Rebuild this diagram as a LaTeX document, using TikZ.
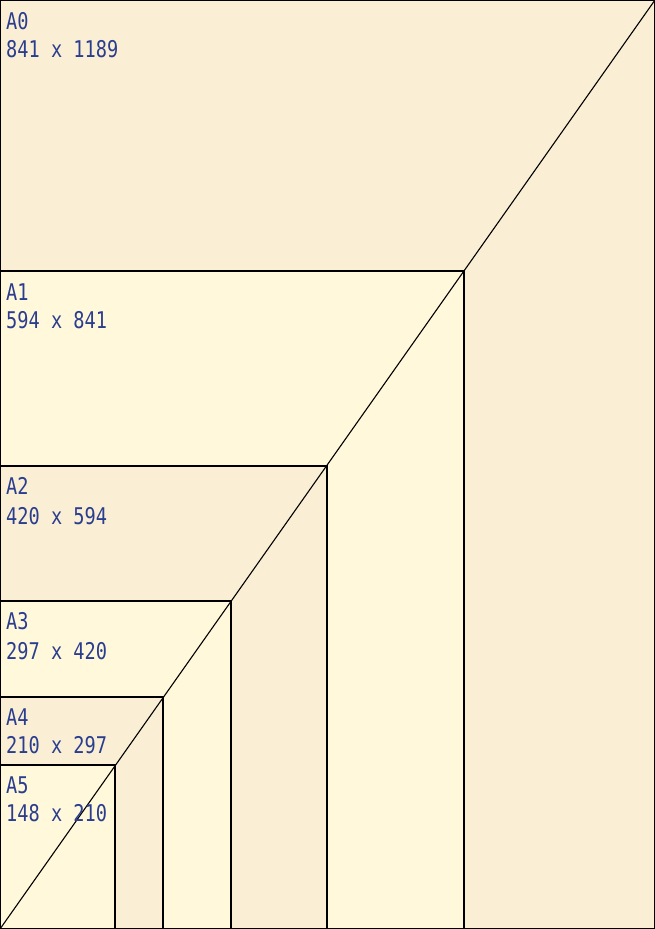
\documentclass[tikz,border=0pt]{standalone}
\usepackage{fontspec}
\newfontfamily\labelfont[FakeStretch=0.81]{DejaVu Sans Mono}
\definecolor{paperA}{HTML}{FAEFD4}
\definecolor{paperB}{HTML}{FFF8DA}
\definecolor{labelblue}{HTML}{2A3D8F}
\begin{document}
\begin{tikzpicture}[x=1pt,y=-1pt,
  sheet/.style={draw=black,line width=1.1pt},
  lab/.style={anchor=base west,inner sep=0pt,text=labelblue,font=\labelfont\fontsize{23}{27}\selectfont}]
\useasboundingbox (0,0) rectangle (655,929);
% sheets
\draw[sheet,fill=paperA] (0.3,0.5) rectangle (654.5,928.5);
\draw[sheet,fill=paperB] (0.3,271) rectangle (464,928.5);
\draw[sheet,fill=paperA] (0.3,466) rectangle (327,928.5);
\draw[sheet,fill=paperB] (0.3,601) rectangle (231,928.5);
\draw[sheet,fill=paperA] (0.3,697) rectangle (163,928.5);
\draw[sheet,fill=paperB] (0.3,765) rectangle (115,928.5);
% diagonal
\coordinate (bl) at (0,929);
\coordinate (tr) at (655,0);
\draw[line width=1.1pt] (bl) -- (tr);
% labels
\node[lab] (n0) at (6,29) {A0};
\node[lab] (s0) at (6,57) {841 x 1189};
\node[lab] (n1) at (6,300) {A1};
\node[lab] (s1) at (6,328) {594 x 841};
\node[lab] (n2) at (6,494) {A2};
\node[lab] (s2) at (6,524) {420 x 594};
\node[lab] (n3) at (6,629) {A3};
\node[lab] (s3) at (6,659) {297 x 420};
\node[lab] (n4) at (6,725) {A4};
\node[lab] (s4) at (6,753) {210 x 297};
\node[lab] (n5) at (6,793) {A5};
\node[lab] (s5) at (6,821) {148 x 210};
\end{tikzpicture}
\end{document}
